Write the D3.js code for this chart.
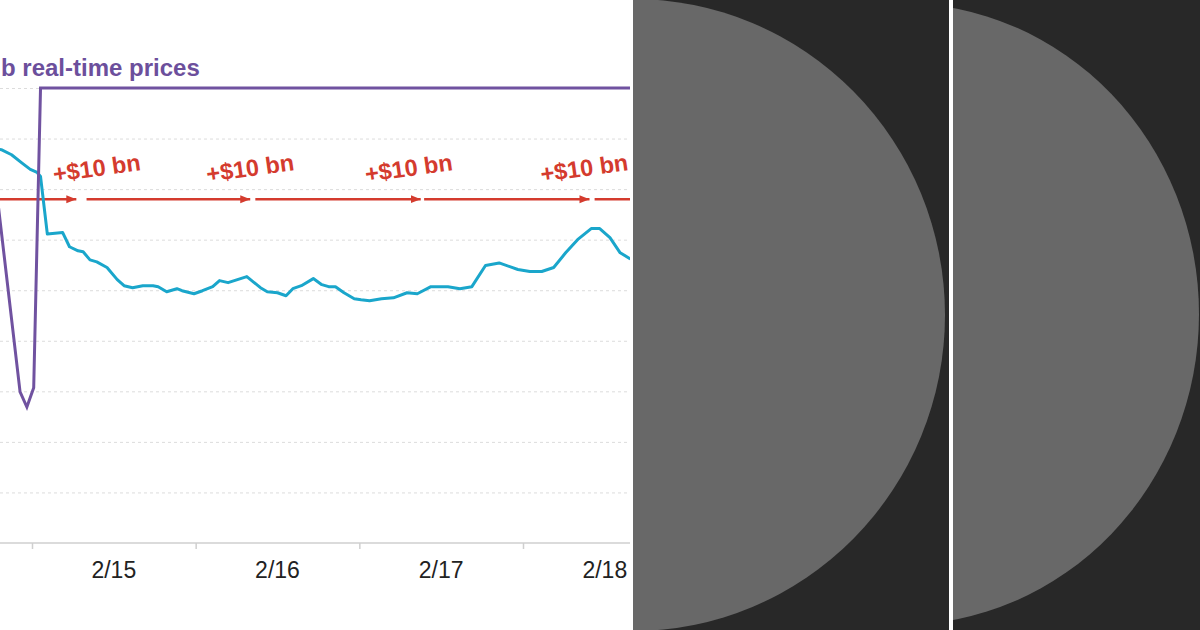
<!DOCTYPE html>
<meta charset="utf-8">
<style>
body { margin: 0; background: #fff; }
text { font-family: "Liberation Sans", Arial, sans-serif; }
.grid line { stroke: #dcdcdc; stroke-dasharray: 3,3; }
.axis--x .tick line { stroke: #cfcfcf; stroke-width: 1.5; }
.axis--x path { display: none; }
.price { fill: none; stroke: #7052a0; stroke-width: 3; }
.load { fill: none; stroke: #1aa6cb; stroke-width: 3; }
.arrow { stroke: #d43b2e; stroke-width: 2.5; }
.arrowtext { fill: #d43b2e; font-weight: bold; font-size: 23.5px; }
</style>
<body>
<svg width="1200" height="630"></svg>
<script src="https://cdn.jsdelivr.net/npm/d3@7"></script>
<script>

// real-time price ($/MWh)
var priceTimes = ["2021-02-14T17:45", "2021-02-14T18:45", "2021-02-14T22:15", "2021-02-14T23:15",
                  "2021-02-15T00:15", "2021-02-15T01:15", "2021-02-18T15:45"];
var priceValues = [9000, 7030, 2990, 2690, 3070, 9000, 9000];

// second series (same scale)
var loadTimes = ["2021-02-14T18:00", "2021-02-14T19:30", "2021-02-14T21:00", "2021-02-14T22:30", "2021-02-14T23:45",
  "2021-02-15T00:45", "2021-02-15T01:15", "2021-02-15T02:15", "2021-02-15T04:30", "2021-02-15T05:30",
  "2021-02-15T06:45", "2021-02-15T07:30", "2021-02-15T08:30", "2021-02-15T09:30", "2021-02-15T11:00",
  "2021-02-15T12:30", "2021-02-15T13:30", "2021-02-15T14:45", "2021-02-15T16:15", "2021-02-15T17:45",
  "2021-02-15T18:30", "2021-02-15T19:45", "2021-02-15T21:15", "2021-02-15T22:00", "2021-02-15T23:45",
  "2021-02-16T01:00", "2021-02-16T02:30", "2021-02-16T03:30", "2021-02-16T04:45", "2021-02-16T07:30",
  "2021-02-16T09:30", "2021-02-16T10:30", "2021-02-16T12:00", "2021-02-16T13:15", "2021-02-16T14:15",
  "2021-02-16T15:30", "2021-02-16T17:15", "2021-02-16T18:30", "2021-02-16T19:30", "2021-02-16T20:30",
  "2021-02-16T21:45", "2021-02-16T23:15", "2021-02-17T00:15", "2021-02-17T01:30", "2021-02-17T03:15",
  "2021-02-17T05:00", "2021-02-17T07:00", "2021-02-17T08:30", "2021-02-17T10:30", "2021-02-17T13:00",
  "2021-02-17T14:45", "2021-02-17T16:30", "2021-02-17T18:30", "2021-02-17T20:30", "2021-02-17T23:15",
  "2021-02-18T01:00", "2021-02-18T02:45", "2021-02-18T04:30", "2021-02-18T06:15", "2021-02-18T08:00",
  "2021-02-18T10:00", "2021-02-18T11:15", "2021-02-18T12:45", "2021-02-18T14:15", "2021-02-18T15:45"];
var loadValues = [7800, 7780, 7680, 7520, 7390,
  7330, 7250, 6110, 6140, 5860,
  5780, 5760, 5600, 5560, 5450,
  5210, 5090, 5050, 5090, 5090,
  5070, 4970, 5030, 4990, 4930,
  4990, 5070, 5190, 5150, 5270,
  5050, 4970, 4950, 4890, 5030,
  5090, 5230, 5110, 5070, 5070,
  4950, 4830, 4810, 4790, 4830,
  4850, 4950, 4930, 5070, 5070,
  5030, 5070, 5490, 5540, 5410,
  5370, 5370, 5450, 5740, 6000,
  6220, 6220, 6040, 5740, 5620];

// "+$10 bn" annotation arrows
var arrowStarts = ["2021-02-14T08:00", "2021-02-15T08:00", "2021-02-16T08:45", "2021-02-17T09:30", "2021-02-18T10:30"];
var arrowEnds   = ["2021-02-15T06:30", "2021-02-16T08:00", "2021-02-17T09:00", "2021-02-18T09:45", "2021-02-19T10:00"];
var arrowLevel = 6800;
var labelTimes = ["2021-02-15T03:15", "2021-02-16T01:45", "2021-02-17T01:00", "2021-02-18T02:45"];
var labelText = "+$10 bn";

var dayTicks = ["2021-02-15T00:00", "2021-02-16T00:00", "2021-02-17T00:00", "2021-02-18T00:00"];
var dayLabels = ["2/15", "2/16", "2/17", "2/18"];
var gridValues = [1000, 2000, 3000, 4000, 5000, 6000, 7000, 8000, 9000];

var parse = d3.timeParse("%Y-%m-%dT%H:%M");

var svg = d3.select("svg");

var x = d3.scaleTime()
    .domain([parse(dayTicks[0]), parse(dayTicks[3])])
    .range([32, 523]);
var y = d3.scaleLinear().domain([0, 9000]).range([543, 88]);

var plotRight = 630;

svg.append("defs").append("clipPath").attr("id", "plot")
  .append("rect").attr("x", 0).attr("y", 0).attr("width", plotRight).attr("height", 630);

var mk = svg.select("defs").append("marker")
    .attr("id", "head")
    .attr("markerUnits", "userSpaceOnUse")
    .attr("markerWidth", 11).attr("markerHeight", 9)
    .attr("refX", 10).attr("refY", 4.5)
    .attr("orient", "auto");
mk.append("path").attr("d", "M0,0.5L10,4.5L0,8.5Z").attr("fill", "#d43b2e");

var g = svg.append("g").attr("clip-path", "url(#plot)");

// grid
g.append("g").attr("class", "grid")
  .selectAll("line").data(gridValues).enter().append("line")
    .attr("x1", 0).attr("x2", plotRight)
    .attr("y1", function(d) { return y(d) + 0.5; })
    .attr("y2", function(d) { return y(d) + 0.5; });

// x axis
svg.append("line")
    .attr("x1", 0).attr("x2", plotRight)
    .attr("y1", y(0)).attr("y2", y(0))
    .attr("stroke", "#cfcfcf").attr("stroke-width", 1.5);

svg.append("g")
    .attr("class", "axis axis--x")
    .attr("transform", "translate(0," + y(0) + ")")
    .call(d3.axisBottom(x).tickValues(dayTicks.map(parse)).tickSize(6).tickFormat(""));

svg.append("g").selectAll("text")
  .data(dayLabels).enter().append("text")
    .attr("x", function(d, i) { return x(d3.timeHour.offset(parse(dayTicks[i]), 12)); })
    .attr("y", 578)
    .attr("text-anchor", "middle")
    .attr("font-size", "23px")
    .attr("fill", "#222")
    .text(function(d) { return d; });

// annotation arrows
var arrows = g.append("g");
arrows.selectAll("line").data(arrowStarts).enter().append("line")
    .attr("class", "arrow")
    .attr("x1", function(d) { return x(parse(d)); })
    .attr("x2", function(d, i) { return x(parse(arrowEnds[i])); })
    .attr("y1", y(arrowLevel)).attr("y2", y(arrowLevel))
    .attr("marker-end", "url(#head)");

arrows.selectAll("text").data(labelTimes).enter().append("text")
    .attr("class", "arrowtext")
    .attr("transform", function(d) {
      return "translate(" + x(parse(d)) + "," + (y(arrowLevel) - 17) + ") rotate(-8)";
    })
    .text(labelText);

// lines
var line = d3.line()
    .x(function(d) { return x(d[0]); })
    .y(function(d) { return y(d[1]); });

g.append("path")
    .datum(loadTimes.map(function(t, i) { return [parse(t), loadValues[i]]; }))
    .attr("class", "load")
    .attr("stroke-linejoin", "round")
    .attr("d", line);

g.append("path")
    .datum(priceTimes.map(function(t, i) { return [parse(t), priceValues[i]]; }))
    .attr("class", "price")
    .attr("d", line);

// title, as far as it shows in the crop
svg.append("text")
    .attr("x", 1).attr("y", 76)
    .attr("font-size", "24px")
    .attr("font-weight", "bold")
    .attr("fill", "#6c4f9c")
    .text("b real-time prices");

// right-hand panels
var panels = svg.append("g");
panels.append("rect").attr("x", 633).attr("y", 0).attr("width", 316).attr("height", 630).attr("fill", "#282828");
panels.append("rect").attr("x", 949).attr("y", 0).attr("width", 4).attr("height", 630).attr("fill", "#fff");
panels.append("rect").attr("x", 953).attr("y", 0).attr("width", 247).attr("height", 630).attr("fill", "#282828");

var defs = svg.select("defs");
defs.append("clipPath").attr("id", "p1").append("rect").attr("x", 633).attr("y", 0).attr("width", 316).attr("height", 630);
defs.append("clipPath").attr("id", "p2").append("rect").attr("x", 953).attr("y", 0).attr("width", 247).attr("height", 630);

panels.append("ellipse").attr("clip-path", "url(#p1)")
    .attr("cx", 633).attr("cy", 315).attr("rx", 312).attr("ry", 316).attr("fill", "#686868");
panels.append("ellipse").attr("clip-path", "url(#p2)")
    .attr("cx", 900).attr("cy", 314).attr("rx", 299).attr("ry", 311).attr("fill", "#686868");

</script>
</body>
